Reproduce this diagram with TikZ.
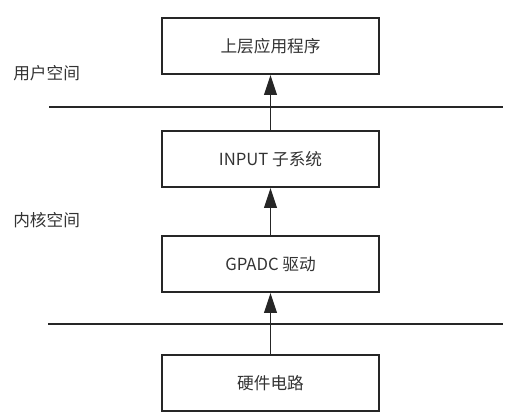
\documentclass[tikz,border=0pt]{standalone}
\usepackage{fontspec}
\setmainfont{Noto Sans CJK SC}
\usetikzlibrary{positioning}
\usetikzlibrary{arrows.meta}

\tikzset{
  layer/.style={draw=black!85, line width=1.5pt, minimum width=162.75pt, minimum height=42pt, align=center, font=\fontsize{12.5pt}{15pt}\selectfont, text=black!80},
  space/.style={anchor=west, inner sep=0pt, font=\fontsize{12.5pt}{15pt}\selectfont, text=black!80},
  up/.style={-{Triangle[length=15pt, width=9.5pt]}, line width=1.4pt, draw=black!85},
  border/.style={line width=1.3pt, draw=black!85}
}

\begin{document}
\begin{tikzpicture}[x=0.75pt, y=-0.75pt]
        \useasboundingbox (0,0) rectangle (522,416);
        \node[layer] (app) at (270.5,46) {上层应用程序};
        \node[layer] (input) [below=41.25pt of app] {INPUT 子系统};
        \node[layer] (gpadc) [below=35.25pt of input] {GPADC 驱动};
        \node[layer] (hw) [below=45.75pt of gpadc] {硬件电路};

        \draw[up] (input) -- (app);
        \draw[up] (gpadc) -- (input);
        \draw[up] (hw) -- (gpadc);

        % user / kernel / hardware boundaries
        \coordinate (user_l) at (49,107);
        \coordinate (user_r) at (503,107);
        \coordinate (hw_l) at (48,324);
        \coordinate (hw_r) at (503,324);
        \draw[border] (user_l) -- (user_r);
        \draw[border] (hw_l) -- (hw_r);

        \node[space] (user_space) at (13,73) {用户空间};
        \node[space] (kernel_space) at (13,220) {内核空间};
    \end{tikzpicture}
\end{document}
